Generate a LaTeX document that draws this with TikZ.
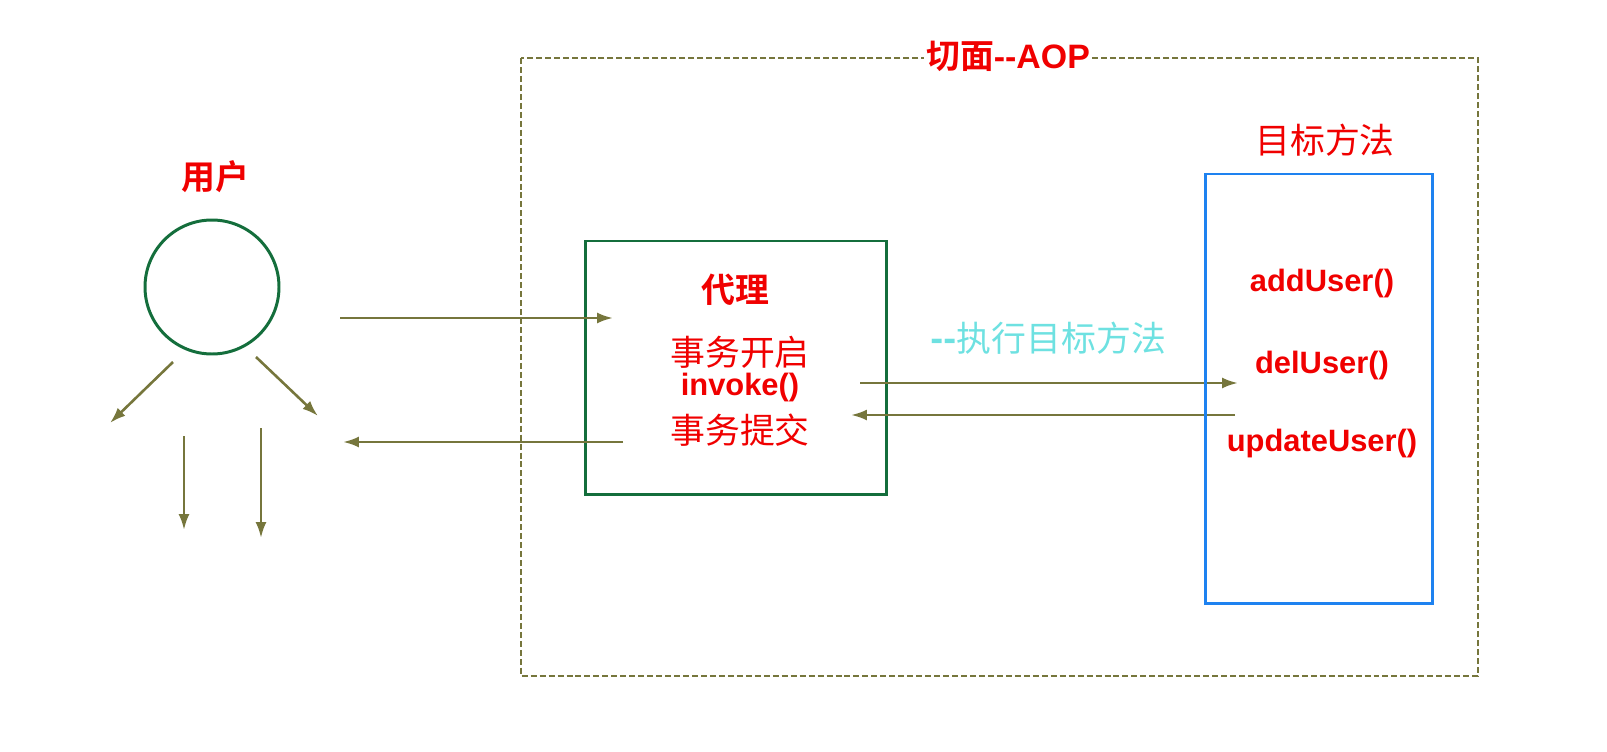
\documentclass[tikz,border=0pt]{standalone}
\usepackage{fontspec}
\setmainfont{Liberation Sans}
\newfontfamily\cjk{Noto Sans CJK SC}
\newfontfamily\cjkb{Noto Sans CJK SC Bold}
\usetikzlibrary{arrows.meta}
\definecolor{oliv}{RGB}{118,118,60}
\definecolor{dgreen}{RGB}{20,110,60}
\definecolor{bblue}{RGB}{30,130,240}
\definecolor{rd}{RGB}{240,0,0}
\definecolor{cy}{RGB}{110,225,225}
\tikzset{
 arr/.style={draw=oliv,line width=2.6pt,-{Latex[length=16pt,width=11pt]}},
 lbl/.style={text=rd,font=\cjk\fontsize{35}{37}\selectfont},
 lblb/.style={text=rd,font=\cjkb\fontsize{34}{36}\selectfont},
 mth/.style={text=rd,font=\bfseries\fontsize{31}{33}\selectfont},
}
\begin{document}
\begin{tikzpicture}[x=1bp,y=-1bp]
\useasboundingbox (0,0) rectangle (1607,752);
\draw[oliv,line width=2.6pt,dash pattern=on 6pt off 3pt] (521,58) rectangle (1478,676);
\node[fill=white,inner sep=2pt,text=rd] (aop) at (1008,56) {\cjkb\fontsize{34}{36}\selectfont 切面\rmfamily\bfseries{-}{-}AOP};
\node[circle,draw=dgreen,line width=3pt,minimum size=134bp] (u) at (212,287) {};
\node[lblb] (ul) at (215,177) {用户};
\coordinate (a1) at (173,362); \coordinate (a2) at (110,423);
\coordinate (b1) at (256,357); \coordinate (b2) at (318,416);
\coordinate (c1) at (184,436); \coordinate (c2) at (184,530);
\coordinate (d1) at (261,428); \coordinate (d2) at (261,538);
\draw[arr] (a1)--(a2); \draw[arr] (b1)--(b2); \draw[arr] (c1)--(c2); \draw[arr] (d1)--(d2);
\node[draw=dgreen,line width=3pt,minimum width=301bp,minimum height=253bp] (px) at (735.5,367.5) {};
\node[lblb] (t1) at (735,290) {代理};
\node[lbl] (t2) at (740,352) {事务开启};
\node[mth] (t3) at (740,388) {invoke()};
\node[lbl] (t4) at (740,430) {事务提交};
\coordinate (e1) at (340,318); \coordinate (e2) at (613,318);
\coordinate (f1) at (623,442); \coordinate (f2) at (343,442);
\draw[arr] (e1)--(e2); \draw[arr] (f1)--(f2);
\coordinate (g1) at (860,383); \coordinate (g2) at (1238,383);
\coordinate (h1) at (1235,415); \coordinate (h2) at (851,415);
\draw[arr] (g1)--(g2); \draw[arr] (h1)--(h2);
\node[text=cy,font=\cjk\fontsize{35}{37}\selectfont] (ex) at (1048,338) {\textbf{-{}-}执行目标方法};
\node[draw=bblue,line width=3pt,minimum width=227bp,minimum height=429bp] (tg) at (1318.5,388.5) {};
\node[lbl] (tl) at (1325,140) {目标方法};
\node[mth] (m1) at (1322,284) {addUser()};
\node[mth] (m2) at (1322,366) {delUser()};
\node[mth] (m3) at (1322,444) {updateUser()};
\end{tikzpicture}
\end{document}
